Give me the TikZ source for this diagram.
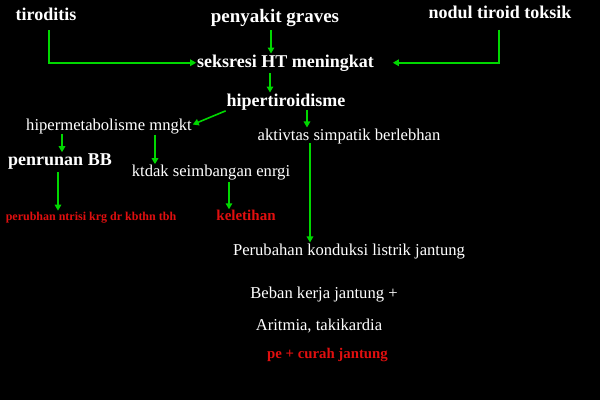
\documentclass[tikz,border=0pt]{standalone}
\usepackage{fontspec}
\setmainfont{Liberation Serif}
\usepackage{tikz}
\usetikzlibrary{arrows.meta}
\usetikzlibrary{calc}
\definecolor{arrowgreen}{RGB}{0,215,0}
\definecolor{notered}{RGB}{225,15,15}
\tikzstyle{cause}=[anchor=base,text=white,font=\fontsize{18}{20}\selectfont\bfseries,inner sep=1pt,outer sep=0pt]
\tikzstyle{effect}=[anchor=base,text=white,font=\fontsize{16.6}{18}\selectfont,inner sep=1pt,outer sep=0pt]
\tikzstyle{redeffect}=[anchor=base,text=notered,font=\bfseries,inner sep=1pt,outer sep=0pt]
\tikzstyle{edge} = [draw,line width=1.6pt,arrowgreen,-{Triangle[length=6pt,width=6.5pt]}]

\begin{document}
\begin{tikzpicture}[x=1pt,y=-1pt]
    \useasboundingbox[fill=black] (0,0) rectangle (600,400);
    % First the causes and the chain of effects
    \foreach \pos/\name/\label in {{(46,20)/tiro/tiroditis}, {(500,18.5)/nodul/nodul tiroid toksik}, {(285.5,67)/seks/seksresi HT meningkat}, {(286,106)/hiper/hipertiroidisme}, {(60,165)/penr/penrunan BB}}
        \node[cause] (\name) at \pos {\label};
    \node[cause, font=\fontsize{19}{21}\selectfont\bfseries] (grav) at (275,22) {penyakit graves};

    \foreach \pos/\name/\label in {{(109,130.5)/hipmet/hipermetabolisme mngkt}, {(349,140)/aktiv/aktivtas simpatik berlebhan}, {(211,176.7)/ktdak/ktdak seimbangan enrgi}, {(349,255)/perkon/Perubahan konduksi listrik jantung}, {(324,298.3)/beban/Beban kerja jantung +}, {(319,330)/arit/{Aritmia, takikardia}}}
        \node[effect] (\name) at \pos {\label};

    \node[redeffect, font=\fontsize{12}{14}\selectfont\bfseries] (perub) at (91,220) {perubhan ntrisi krg dr kbthn tbh};
    \node[redeffect, font=\fontsize{15}{17}\selectfont\bfseries] (kelet) at (246,220.7) {keletihan};
    \node[redeffect, font=\fontsize{14.8}{16}\selectfont\bfseries] (curah) at (327.5,358.3) {pe + curah jantung};

    % Connect them with the green arrows
    \path[edge] ([xshift=3,yshift=-10]tiro.base) |- (seks.west);
    \path[edge, shorten >=18pt] ([xshift=-1,yshift=-11]nodul.base) |- (seks.east);
    \path[edge] ([xshift=-4,yshift=-8]grav.base) -- ([xshift=-4]grav.base |- seks.north);
    \path[edge] ([xshift=-15.5,yshift=-6]seks.base) -- ([xshift=-15.5]seks.base |- hiper.north);
    \path[edge] (hiper.south west) -- ([yshift=2]hipmet.east);
    \path[edge] ([xshift=21,yshift=-4]hiper.base) -- ([xshift=21]hiper.base |- aktiv.north);
    \path[edge] ([xshift=-47,yshift=-3]hipmet.base) -- ([xshift=-47]hipmet.base |- penr.north);
    \path[edge] ([xshift=46,yshift=-4]hipmet.base) -- ([xshift=46]hipmet.base |- ktdak.north);
    \path[edge] ([xshift=-2,yshift=-7]penr.base) -- ([xshift=-2]penr.base |- perub.north);
    \path[edge] ([xshift=18,yshift=-5]ktdak.base) -- ([xshift=18]ktdak.base |- kelet.north);
    \path[edge] ([xshift=-39,yshift=-3]aktiv.base) -- ([xshift=-39]aktiv.base |- perkon.north);
\end{tikzpicture}
\end{document}
